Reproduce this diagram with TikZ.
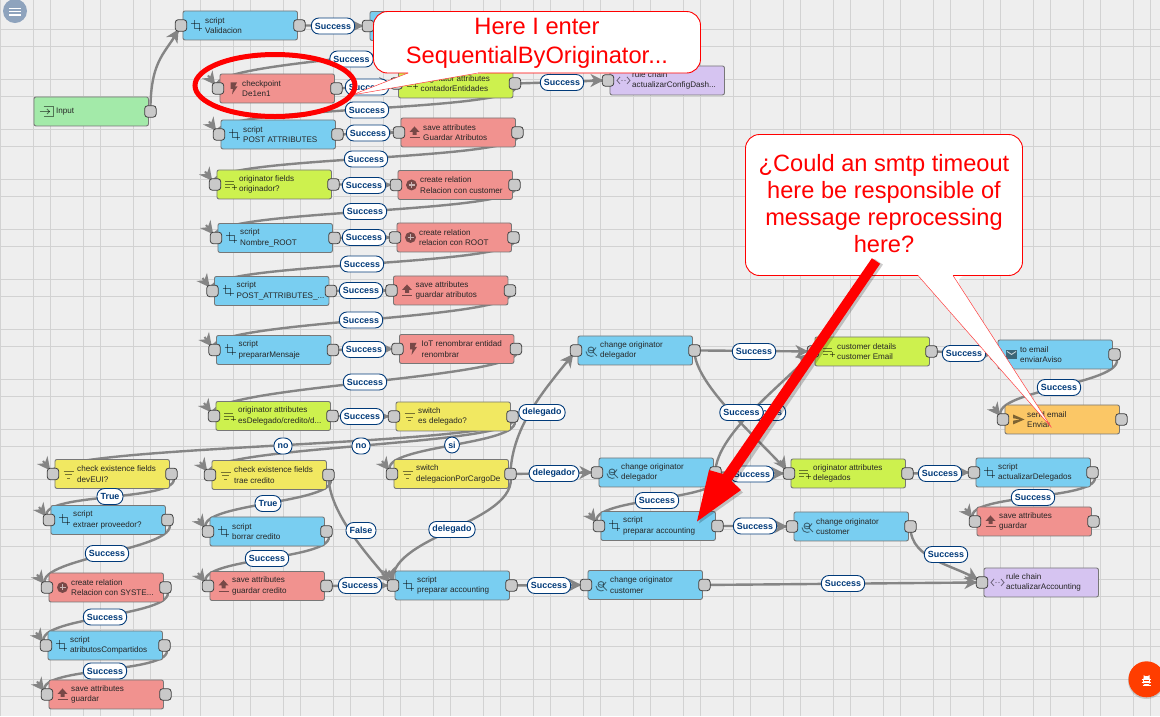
\documentclass[tikz,border=0pt]{standalone}
\usepackage{fontspec}
\setmainfont{Liberation Sans}
\usetikzlibrary{arrows.meta,calc}
\definecolor{bgc}{HTML}{EEEEEE}
\definecolor{gridc}{HTML}{D2D2D2}
\definecolor{cBlue}{HTML}{79CEF1}
\definecolor{cRed}{HTML}{F1928F}
\definecolor{cLime}{HTML}{CDF14E}
\definecolor{cYel}{HTML}{F1E861}
\definecolor{cOra}{HTML}{FBC766}
\definecolor{cPur}{HTML}{D6C4F1}
\definecolor{cGrn}{HTML}{A3EAA9}
\definecolor{wirec}{HTML}{858585}
\definecolor{navy}{HTML}{003A79}
\definecolor{brd}{HTML}{777777}
\definecolor{hamb}{HTML}{8EA3BD}
\definecolor{bugc}{HTML}{FF3D00}
\pgfdeclarelayer{gridl}
\pgfdeclarelayer{conn}
\pgfsetlayers{gridl,conn,main}
\tikzset{
  rbox/.style={draw=brd,line width=.9pt,rounded corners=2pt,minimum width=114.5pt,minimum height=29pt,inner sep=0pt,anchor=north west},
  rport/.style={draw=black!75,fill=black!21,line width=.8pt,rounded corners=3pt,minimum width=11.5pt,minimum height=11.5pt,inner sep=0pt},
  rtxt/.style={anchor=west,inner sep=0pt,align=left,text=black!85,font=\fontsize{8.1}{10.6}\selectfont},
  lbl/.style={draw=navy,fill=white,text=navy,line width=.9pt,rounded corners=7.5pt,inner xsep=3.6pt,inner ysep=0pt,minimum height=16pt,font=\bfseries\fontsize{8.9}{10}\selectfont},
  wire/.style={draw=wirec,line width=2.4pt},
  headw/.style={draw=wirec,line width=2pt,shorten >=4.5pt,-{Stealth[length=13pt,width=13pt,inset=4pt,fill=wirec]}},
  icl/.style={draw=black,opacity=.5,line width=.9pt},
  icf/.style={fill=black,opacity=.5,draw=none},
  calloutf/.style={fill=white,draw=none},
  calloutl/.style={draw=red,line width=.9pt},
  calloutt/.style={draw=red!75,line width=.5pt},
  ctxt/.style={text=red,align=center,inner sep=0pt},
  pics/icrop/.style={code={\draw[icl] (-2.5,-5.5)--(-2.5,2.8)--(5.5,2.8); \draw[icl] (-5.5,-2.5)--(2.8,-2.5)--(2.8,5.5);}},
  pics/ifilter/.style={code={\draw[icl] (-5,-3)--(5,-3); \draw[icl] (-3.2,0.5)--(3.2,0.5); \draw[icl] (-1.3,4)--(1.3,4);}},
  pics/ilist/.style={code={\draw[icl] (-5.5,-3)--(3,-3); \draw[icl] (-5.5,0)--(3,0); \draw[icl] (-5.5,3)--(-.5,3); \draw[icl] (1,3)--(6,3); \draw[icl] (3.5,.5)--(3.5,5.5);}},
  pics/ibolt/.style={code={\fill[icf] (-3,-6)--(3.5,-6)--(1.5,-2)--(4,-2)--(-1.5,6)--(-.5,0.5)--(-3,0.5)--cycle;}},
  pics/iup/.style={code={\fill[icf] (0,-6)--(5,-.5)--(2,-.5)--(2,2.5)--(-2,2.5)--(-2,-.5)--(-5,-.5)--cycle; \draw[icl] (-5,5)--(5,5);}},
  pics/iplus/.style={code={\fill[icf] (0,0) circle (5.5pt); \draw[draw=white,opacity=.6,line width=1.1pt] (-3,0)--(3,0) (0,-3)--(0,3);}},
  pics/ichg/.style={code={\draw[icl] (-.5,-.5) circle (3pt); \draw[icl] (1.5,1.5)--(5.5,5.5); \draw[icl] (-5.5,1) arc (180:300:5pt); \draw[icl] (4.5,-3) arc (-20:-120:5pt);}},
  pics/iinput/.style={code={\draw[icl] (-4,-5)--(6,-5)--(6,5)--(-4,5); \draw[icl] (-8,0)--(2,0); \draw[icl] (-.5,-2.5)--(2,0)--(-.5,2.5);}},
  pics/ichain/.style={code={\draw[icl,line width=.8pt] (-3.5,-3.5)--(-6.5,0)--(-3.5,3.5); \draw[icl,line width=.8pt] (3.5,-3.5)--(6.5,0)--(3.5,3.5); \fill[icf] (-1.5,0) circle (.6pt) (1.5,0) circle (.6pt);}},
  pics/imail/.style={code={\fill[icf] (-5.5,-4.5) rectangle (5.5,4.5); \draw[draw=white,opacity=.7,line width=.9pt] (-4.5,-3)--(0,0)--(4.5,-3);}},
  pics/isend/.style={code={\fill[icf] (-5.5,-5)--(6,0)--(-5.5,5)--(-5.5,1.2)--(2,0)--(-5.5,-1.2)--cycle;}},
}
\newcounter{wc}
\newcommand{\rncore}[7]{%
  \node[rbox,fill=#4] (#1) at (#2,#3) {};
  \pic at ($(#1.west)+(14,0)$) {#5};
  \node[rtxt] (#1-t) at ($(#1.west)+(22.5,0)$) {#6\\#7};
}
\newcommand{\lport}[1]{\node[rport] (#1-l) at ($(#1.west)+(-1.5,0)$) {};}
\newcommand{\rport}[1]{\node[rport] (#1-r) at ($(#1.east)+(1.5,0)$) {};}
\newcommand{\rn}[7]{\rncore{#1}{#2}{#3}{#4}{#5}{#6}{#7}\lport{#1}\rport{#1}}
% src dst c1 c2 text labelpos tail
\newcommand{\wirex}[7]{%
  \stepcounter{wc}%
  \begin{pgfonlayer}{conn}
    \draw[wire] (#1-r.center) .. controls +(#3) and +(#4) .. (#2-l.center);
    \draw[headw] ($(#2-l.center)+(#7)$) -- (#2-l.center);
  \end{pgfonlayer}
  \node[lbl] (lb\arabic{wc}) at (#6) {#5};
}
\newcommand{\WB}[4]{\wirex{#1}{#2}{25,30}{-25,-30}{#3}{#4}{-10,-13}}
\newcommand{\WS}[4]{\wirex{#1}{#2}{10,0}{-10,0}{#3}{#4}{-16,0}}
\begin{document}
\begin{tikzpicture}[x=1pt,y=-1pt]
\useasboundingbox (0,0) rectangle (1160,716);
\begin{pgfonlayer}{gridl}
  \fill[bgc] (0,0) rectangle (1160,716);
  \foreach \i in {0,...,23} {
    \draw[gridc,line width=.8pt] ({\i*50},0) -- ({\i*50},716);
    \draw[gridc,line width=.8pt] ({\i*50+33.3},0) -- ({\i*50+33.3},716);
  }
  \foreach \i in {0,...,14} {
    \draw[gridc,line width=.8pt] (0,{\i*50+29.3}) -- (1160,{\i*50+29.3});
    \draw[gridc,line width=.8pt] (0,{\i*50-4}) -- (1160,{\i*50-4});
  }
\end{pgfonlayer}
% nodes
\node[rbox,fill=cGrn] (input) at (33.5,96.5) {};
\pic at ($(input.west)+(14,0)$) {iinput};
\node[rtxt] (input-t) at ($(input.west)+(22.5,0)$) {Input};
\rport{input}
\rn{valid}{182.5}{10.5}{cBlue}{icrop}{script}{Validacion}
\rn{hidden}{369.5}{11}{cBlue}{icrop}{}{}
\rn{ckpt}{219.5}{73.5}{cRed}{ibolt}{checkpoint}{De1en1}
\rn{conta}{398}{68.5}{cLime}{ilist}{originator attributes}{contadorEntidades}
\rncore{rcdash}{609.5}{65.5}{cPur}{ichain}{rule chain}{actualizarConfigDash...}\lport{rcdash}
\rn{post}{220.5}{119.5}{cBlue}{icrop}{script}{POST ATTRIBUTES}
\rn{gatr}{400.5}{117.5}{cRed}{iup}{save attributes}{Guardar Atributos}
\rn{orig}{216.5}{169.5}{cLime}{ilist}{originator fields}{originador?}
\rn{relc}{397.5}{170}{cRed}{iplus}{create relation}{Relacion con customer}
\rn{nomb}{217.5}{223}{cBlue}{icrop}{script}{Nombre\_ROOT}
\rn{relr}{396.5}{222.5}{cRed}{iplus}{create relation}{relacion con ROOT}
\rn{posta}{214}{276}{cBlue}{icrop}{script}{POST\_ATTRIBUTES\_...}
\rn{gatr2}{393}{275.5}{cRed}{iup}{save attributes}{guardar atributos}
\rn{prep}{216}{335}{cBlue}{icrop}{script}{prepararMensaje}
\rn{iot}{399}{334}{cRed}{ibolt}{IoT renombrar entidad}{renombrar}
\rn{esdel}{215.5}{401}{cLime}{ilist}{originator attributes}{esDelegado/credito/d...}
\rn{swdel}{395.5}{401.5}{cYel}{ifilter}{switch}{es delegado?}
\rn{swcar}{393.5}{459}{cYel}{ifilter}{switch}{delegacionPorCargoDe}
\rn{chgt}{577.5}{335.5}{cBlue}{ichg}{change originator}{delegador}
\rn{cust}{814.5}{336.5}{cLime}{ilist}{customer details}{customer Email}
\rn{mail}{997.5}{339.5}{cBlue}{imail}{to email}{enviarAviso}
\rn{send}{1004.5}{404.5}{cOra}{isend}{send email}{Enviar}
\rn{attd}{790.5}{458.5}{cLime}{ilist}{originator attributes}{delegados}
\rn{actd}{975.5}{457.5}{cBlue}{icrop}{script}{actualizarDelegados}
\rn{gua1}{976.5}{506.5}{cRed}{iup}{save attributes}{guardar}
\rn{chgm}{598.5}{457.5}{cBlue}{ichg}{change originator}{delegador}
\rn{pacu}{600.5}{511}{cBlue}{icrop}{script}{preparar accounting}
\rn{chcu}{793.5}{511.5}{cBlue}{ichg}{change originator}{customer}
\rncore{rcacc}{983.5}{567.5}{cPur}{ichain}{rule chain}{actualizarAccounting}\lport{rcacc}
\rn{pacl}{394.5}{570.5}{cBlue}{icrop}{script}{preparar accounting}
\rn{chcl}{587.5}{570}{cBlue}{ichg}{change originator}{customer}
\rn{dev}{54.5}{459}{cYel}{ifilter}{check existence fields}{devEUI?}
\rn{trae}{211.5}{460}{cYel}{ifilter}{check existence fields}{trae credito}
\rn{prov}{50.5}{505}{cBlue}{icrop}{script}{extraer proveedor?}
\rn{borr}{209.5}{516.5}{cBlue}{icrop}{script}{borrar credito}
\rn{gcre}{209.5}{571}{cRed}{iup}{save attributes}{guardar credito}
\rn{rsys}{48.5}{572.5}{cRed}{iplus}{create relation}{Relacion con SYSTE...}
\rn{comp}{47.5}{630.5}{cBlue}{icrop}{script}{atributosCompartidos}
\rn{gua2}{48.5}{679.5}{cRed}{iup}{save attributes}{guardar}
% connectors
\begin{pgfonlayer}{conn}
  \draw[wire] (input-r.center) .. controls +(0,-55) and +(-14,28) .. (valid-l.center);
  \draw[headw] ($(valid-l.center)+(-8,13)$) -- (valid-l.center);
\end{pgfonlayer}
\WS{valid}{hidden}{Success}{333,26}
\WB{hidden}{ckpt}{Success}{351.5,59}
\WS{ckpt}{conta}{Success}{367,87}
\WS{conta}{rcdash}{Success}{562,82.5}
\WB{conta}{post}{Success}{367,110}
\WS{post}{gatr}{Success}{368,133}
\WB{gatr}{orig}{Success}{366,159}
\WS{orig}{relc}{Success}{364,185.5}
\WB{relc}{nomb}{Success}{365,211.5}
\WS{nomb}{relr}{Success}{364,237.5}
\WB{relr}{posta}{Success}{362,264}
\WS{posta}{gatr2}{Success}{361,290.5}
\WB{gatr2}{prep}{Success}{361,320}
\WS{prep}{iot}{Success}{364,349.5}
\WB{iot}{esdel}{Success}{365,382}
\WS{esdel}{swdel}{Success}{362,416.5}
\WB{swdel}{dev}{no}{283,446}
\WB{swdel}{trae}{no}{361,446}
\WB{swdel}{swcar}{si}{452,445}
\wirex{swcar}{chgt}{2,-50}{-30,38}{delegado}{542,412.5}{-10,13}
\WS{swcar}{chgm}{delegador}{554,473.5}
\wirex{swcar}{pacl}{10,50}{-10,-50}{delegado}{452,529.5}{-4,-15}
\WB{dev}{prov}{True}{110,496.5}
\WB{prov}{rsys}{Success}{107,553.5}
\WB{rsys}{comp}{Success}{105,617}
\WB{comp}{gua2}{Success}{105,671}
\WB{trae}{borr}{True}{268,503.5}
\WB{borr}{gcre}{Success}{267,558.5}
\WS{gcre}{pacl}{Success}{360,585.5}
\wirex{trae}{pacl}{0,40}{-20,-25}{False}{361,530.5}{-11,-12}
\WS{pacl}{chcl}{Success}{549,585.5}
\WS{chcl}{rcacc}{Success}{843,583.5}
\wirex{chcu}{rcacc}{0,35}{-25,-18}{Success}{946,554.5}{-13,-8}
\WS{pacu}{chcu}{Success}{755,526}
\WS{chgm}{attd}{Success}{752,474}
\WB{chgm}{pacu}{Success}{657,500.5}
\wirex{chgm}{cust}{0,-40}{-20,25}{Success}{764,412.5}{-12,9}
\wirex{chgt}{attd}{0,35}{-25,-30}{Success}{741.5,412.5}{-9,-13}
\WS{chgt}{cust}{Success}{754,351.5}
\WS{cust}{mail}{Success}{964,353.5}
\WB{mail}{send}{Success}{1059,387.5}
\WS{attd}{actd}{Success}{940,473.5}
\WB{actd}{gua1}{Success}{1033,497.5}
% second callout
\fill[calloutf,rounded corners=14pt] (745.5,134.5) -- (1022.5,134.5) -- (1022.5,275.5) -- (953,275.5) [sharp corners] -- (1051.5,427.5) -- (918,275.5) [rounded corners=14pt] -- (745.5,275.5) -- cycle;
\draw[calloutl,rounded corners=14pt] (918,275.5) -- (745.5,275.5) -- (745.5,134.5) -- (1022.5,134.5) -- (1022.5,275.5) -- (953,275.5);
\draw[calloutt] (953,275.5) -- (1051.5,427.5) -- (918,275.5);
\node[ctxt,font=\fontsize{23.6}{27}\selectfont] (c2t) at (884,203.5) {¿Could an smtp timeout\\here be responsible of\\message reprocessing\\here?};
% red arrow
\fill[black,opacity=.2] (882.9,264.6) -- (874.6,258.9) -- (726,477) -- (712,473) -- (699,523.5) -- (743,492.5) -- (734.3,484) -- cycle;
\fill[red] (880.1,263.8) -- (871.9,258.2) -- (723,474) -- (709,470) -- (697,521.5) -- (741,490) -- (731.5,481) -- cycle;
% first callout
\fill[calloutf,rounded corners=14pt] (373.5,11.5) -- (700.5,11.5) -- (700.5,73) -- (478,73) [sharp corners] -- (352,95) -- (408,73) [rounded corners=14pt] -- (373.5,73) -- cycle;
\draw[calloutl,rounded corners=14pt] (408,73) -- (373.5,73) -- (373.5,11.5) -- (700.5,11.5) -- (700.5,73) -- (478,73);
\draw[calloutt] (478,73) -- (352,95) -- (408,73);
\node[ctxt,font=\fontsize{23.7}{29}\selectfont] (c1t) at (537,43) {Here I enter\\SequentialByOriginator...};
\draw[red,line width=5pt] (275,85.5) ellipse [x radius=80pt,y radius=31pt];
% hamburger
\node[circle,fill=hamb,minimum size=24pt,inner sep=0pt] (menu) at (15,11) {};
\draw[white,line width=1.1pt] (9,8.7)--(21,8.7) (9,11.8)--(21,11.8) (9,15)--(21,15);
% bug button
\fill[black,opacity=.15] (1146.5,680.5) circle (18.5pt);
\node[circle,fill=bugc,minimum size=36pt,inner sep=0pt] (bug) at (1146.5,679.3) {};
\fill[white] (1146.5,681) ellipse [x radius=3.6pt,y radius=5pt];
\fill[white] (1143.5,675.2) -- (1146.5,676.7) -- (1149.5,675.2) -- (1149.5,679) -- (1143.5,679) -- cycle;
\draw[white,line width=.8pt] (1141.7,679)--(1151.3,679) (1141.7,682)--(1151.3,682) (1142.5,685)--(1150.5,685);
\draw[bugc,line width=.8pt] (1144,680.5)--(1149,680.5) (1144,683.3)--(1149,683.3);
\end{tikzpicture}
\end{document}
